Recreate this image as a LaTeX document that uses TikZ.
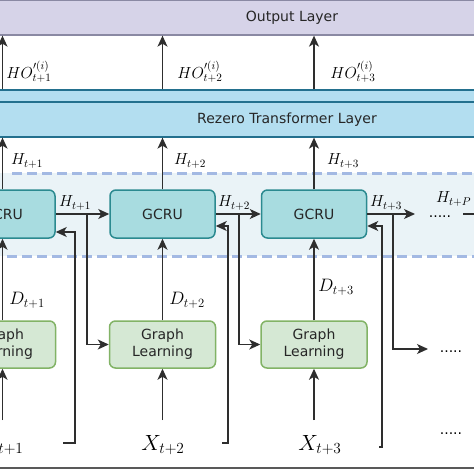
\RequirePackage{fix-cm}
\documentclass[tikz,border=0pt]{standalone}
\usepackage{fontspec}
\setsansfont{DejaVu Sans}
\usetikzlibrary{arrows.meta,calc}
\definecolor{outfill}{HTML}{D6D3E8}
\definecolor{outdraw}{HTML}{8A89A3}
\definecolor{rzfill}{HTML}{B3DEF0}
\definecolor{rzdraw}{HTML}{23708E}
\definecolor{bandfill}{HTML}{EAF3F7}
\definecolor{banddash}{HTML}{A3B9E3}
\definecolor{gcfill}{HTML}{A8DCE0}
\definecolor{gcdraw}{HTML}{2B8A90}
\definecolor{glfill}{HTML}{D5E8D4}
\definecolor{gldraw}{HTML}{82B366}
\definecolor{linecol}{HTML}{2E2E2E}
\begin{document}
\begin{tikzpicture}[x=1pt,y=-1pt,
  arr/.style={draw=linecol, line width=1.3pt, -{Stealth[length=11pt,width=10pt,inset=3pt]}},
  plain/.style={draw=linecol, line width=1.3pt},
  layer/.style={rectangle, inner sep=0pt, line width=1.3pt, text=black!85,
    font=\sffamily\fontsize{14}{17}\selectfont},
  outbox/.style={layer, fill=outfill, draw=outdraw, minimum width=640pt, minimum height=35pt},
  rzbox/.style={layer, fill=rzfill, draw=rzdraw, minimum width=640pt},
  gcru/.style={rectangle, rounded corners=6pt, draw=gcdraw, fill=gcfill, line width=1.5pt,
    minimum width=105pt, minimum height=48pt, inner sep=0pt, text=black!85,
    font=\sffamily\fontsize{14}{17}\selectfont},
  glbox/.style={rectangle, rounded corners=6pt, draw=gldraw, fill=glfill, line width=1.5pt,
    minimum width=106pt, minimum height=47pt, inner sep=0pt, text=black!85, align=center,
    font=\sffamily\fontsize{14}{17}\selectfont},
  lab/.style={inner sep=0pt, font=\fontsize{16}{19}\selectfont},
  dlab/.style={inner sep=0pt, font=\fontsize{18}{21}\selectfont},
  xlab/.style={inner sep=0pt, font=\fontsize{22}{26}\selectfont},
  dotsl/.style={inner sep=0pt, font=\sffamily\fontsize{14}{17}\selectfont}
]
\useasboundingbox (0,0) rectangle (474,474);
\fill[white] (0,0) rectangle (474,474);
\clip (0,0) rectangle (474,474);

% dashed band
\fill[bandfill] (0,173) rectangle (474,256);
\draw[banddash, line width=3pt, dash pattern=on 10pt off 5pt] (12,173) -- (474,173);
\draw[banddash, line width=3pt, dash pattern=on 10pt off 5pt] (7,256) -- (474,256);

% layers
\node[outbox] (out) at (292,17.5) {Output Layer};
\node[rzbox, minimum height=46pt] (rzback) at (287,113) {};
\node[rzbox, minimum height=35pt] (rz) at (287,119.5) {Rezero Transformer Layer};

% GCRU boxes
\node[gcru] (g1) at (2.5,214) {GCRU};
\node[gcru] (g2) at (162.5,214) {GCRU};
\node[gcru] (g3) at (314,214) {GCRU};

% Graph learning boxes
\node[glbox] (l1) at (2.5,344.5) {Graph\\Learning};
\node[glbox] (l2) at (162.5,344.5) {Graph\\Learning};
\node[glbox] (l3) at (314,344.5) {Graph\\Learning};

% arrows to output layer
\draw[arr] (g1.north |- rzback.north) -- (g1.north |- out.south);
\draw[arr] (g2.north |- rzback.north) -- (g2.north |- out.south);
\draw[arr] (g3.north |- rzback.north) -- (g3.north |- out.south);

% GCRU -> rezero
\draw[arr] (g1.north) -- (g1.north |- rz.south);
\draw[arr] (g2.north) -- (g2.north |- rz.south);
\draw[arr] (g3.north) -- (g3.north |- rz.south);

% GCRU chain
\coordinate (e3) at (415,214);
\draw[arr] (g1.east) -- (g2.west);
\draw[arr] (g2.east) -- (g3.west);
\draw[arr] (g3.east) -- (e3);

% branches down to graph learning
\coordinate (b1) at (87,214);
\coordinate (b2) at (239,214);
\coordinate (b3) at (393,214);
\coordinate (e4) at (428,349);
\draw[arr] (b1) |- (l2.west);
\draw[arr] (b2) |- (l3.west);
\draw[arr] (b3) |- (e4);

% inputs back into GCRU
\coordinate (s1) at (63,443);
\coordinate (s2) at (222,443);
\coordinate (s3) at (379,447);
\draw[arr] (s1) -- ++(12,0) |- ([yshift=-18pt]g1.east);
\draw[arr] (s2) -- ++(6,0) |- ([yshift=-12pt]g2.east);
\draw[arr] (s3) -- ++(3,0) |- ([yshift=-12pt]g3.east);

% graph learning -> GCRU
\draw[arr] (l1.north) -- (g1.south);
\draw[arr] (l2.north) -- (g2.south);
\draw[arr] (l3.north) -- (g3.south);

% X inputs
\node[xlab] (x1) at (2,445) {$X_{t+1}$};
\node[xlab] (x2) at (163,445) {$X_{t+2}$};
\node[xlab] (x3) at (320,445) {$X_{t+3}$};
\coordinate (xa1) at (2.5,420);
\coordinate (xa2) at (162.5,420);
\coordinate (xa3) at (314,420);
\draw[arr] (xa1) -- (l1.south);
\draw[arr] (xa2) -- (l2.south);
\draw[arr] (xa3) -- (l3.south);

% labels
\node[lab] (ho1) at (29,72) {$HO'^{(i)}_{t+1}$};
\node[lab] (ho2) at (200,72) {$HO'^{(i)}_{t+2}$};
\node[lab] (ho3) at (353,72) {$HO'^{(i)}_{t+3}$};
\node[lab] (ht1) at (27,161) {$H_{t+1}$};
\node[lab] (ht2) at (190,161) {$H_{t+2}$};
\node[lab] (ht3) at (343,161) {$H_{t+3}$};
\node[lab] (hm1) at (75,203) {$H_{t+1}$};
\node[lab] (hm2) at (234,203) {$H_{t+2}$};
\node[lab] (hm3) at (386,203) {$H_{t+3}$};
\node[lab, anchor=west] (hmp) at (436,199) {$H_{t+P}$};
\node[dlab] (d1) at (27,300) {$D_{t+1}$};
\node[dlab] (d2) at (187,300) {$D_{t+2}$};
\node[dlab] (d3) at (336,287) {$D_{t+3}$};

% dots
\node[dotsl] (dt1) at (440,217) {.....};
\node[dotsl] (dt2) at (451,352) {.....};
\node[dotsl] (dt3) at (451,434) {.....};
\coordinate (f1) at (463,214);
\coordinate (f2) at (480,214);
\draw[plain] (f1) -- (f2);

% bottom line
\draw[line width=2pt, black!65] (0,468) -- (474,468);
\end{tikzpicture}
\end{document}
